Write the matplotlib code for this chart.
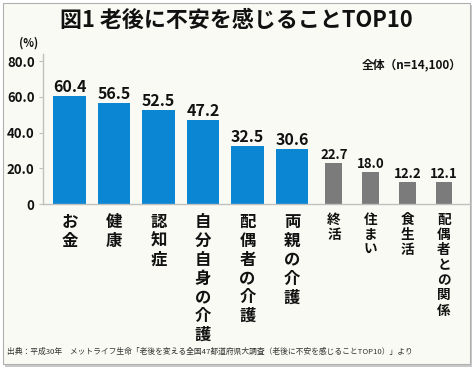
import matplotlib
matplotlib.use('Agg')
import matplotlib.pyplot as plt
import matplotlib.transforms as mtransforms
from matplotlib.patches import Rectangle

plt.rcParams['font.family'] = ['Noto Sans CJK JP', 'DejaVu Sans']

categories = ['お金', '健康', '認知症', '自分自身の介護', '配偶者の介護',
              '両親の介護', '終活', '住まい', '食生活', '配偶者との関係']
values = [60.4, 56.5, 52.5, 47.2, 32.5, 30.6, 22.7, 18.0, 12.2, 12.1]
n_top = 6  # first six bars are highlighted in blue
yticks = [0, 20, 40, 60, 80]
ytick_labels = ['0', '20.0', '40.0', '60.0', '80.0']

BLUE = '#0a86d2'
GRAY = '#7b7b7b'
BG = '#fafaf4'
W, H = 474, 368

fig = plt.figure(figsize=(W / 100, H / 100), dpi=100, facecolor='white')

# outer frame with a little shadow
fig.patches.append(Rectangle((5 / W, 1 / H), 467 / W, 362 / H, transform=fig.transFigure,
                             facecolor='#c8c8c8', edgecolor='none', zorder=-2))
fig.patches.append(Rectangle((3 / W, 4 / H), 467 / W, 361 / H, transform=fig.transFigure,
                             facecolor=BG, edgecolor='#b0b0b0', linewidth=0.8, zorder=-1))

ax = fig.add_axes([43 / W, (H - 204) / H, 427 / W, 150 / H])
ax.set_facecolor('none')
ax.set_zorder(2)

# x layout: blue bars at pitch 1, gray bars narrower and tighter
xs = [i if i < n_top else 5.94 + (i - n_top) * 0.825 for i in range(len(values))]
widths = [0.74 if i < n_top else 0.38 for i in range(len(values))]
colors = [BLUE if i < n_top else GRAY for i in range(len(values))]

ax.bar(xs, values, width=widths, color=colors, zorder=2)
ax.set_xlim(-0.596, 9.0)
ax.set_ylim(0, 84)

for i, (x, v) in enumerate(zip(xs, values)):
    big = i < n_top
    ax.text(x, v + 0.6, f'{v:.1f}', ha='center', va='bottom',
            fontsize=11.5 if big else 9.5, fontweight='bold', color='#111111')

trans = mtransforms.blended_transform_factory(ax.transData, ax.transAxes)
for i, (x, lab) in enumerate(zip(xs, categories)):
    big = i < n_top
    ax.text(x, -0.06, '\n'.join(lab), transform=trans, ha='center', va='top',
            fontsize=11.8 if big else 9.8, fontweight='bold', color='#111111',
            linespacing=1.06 if big else 1.1)

ax.set_yticks(yticks)
ax.set_yticklabels(ytick_labels, fontsize=9.5, fontweight='bold', color='#111111')
ax.set_xticks([])
ax.tick_params(axis='y', length=3, color='#c0c0c0', pad=3)
for side in ['top', 'right']:
    ax.spines[side].set_visible(False)
for side in ['left', 'bottom']:
    ax.spines[side].set_color('#c0c0c0')
    ax.spines[side].set_linewidth(1.0)

fig.text(38 / W, 1 - 43 / H, '(%)', ha='right', va='center', fontsize=8,
         fontweight='bold', color='#111111')
fig.text(236 / W, 1 - 20 / H, '図1 老後に不安を感じることTOP10', ha='center', va='center',
         fontsize=15.8, fontweight='bold', color='#111111')
fig.text(462 / W, 1 - 65 / H, '全体（n=14,100）', ha='right', va='center',
         fontsize=8.5, fontweight='bold', color='#111111')
fig.text(7 / W, 1 - 352 / H,
         '出典：平成30年　メットライフ生命「老後を変える全国47都道府県大調査（老後に不安を感じることTOP10）」より',
         ha='left', va='center', fontsize=5.6, color='#333333')

fig.savefig('out.png', dpi=100, facecolor='white')
